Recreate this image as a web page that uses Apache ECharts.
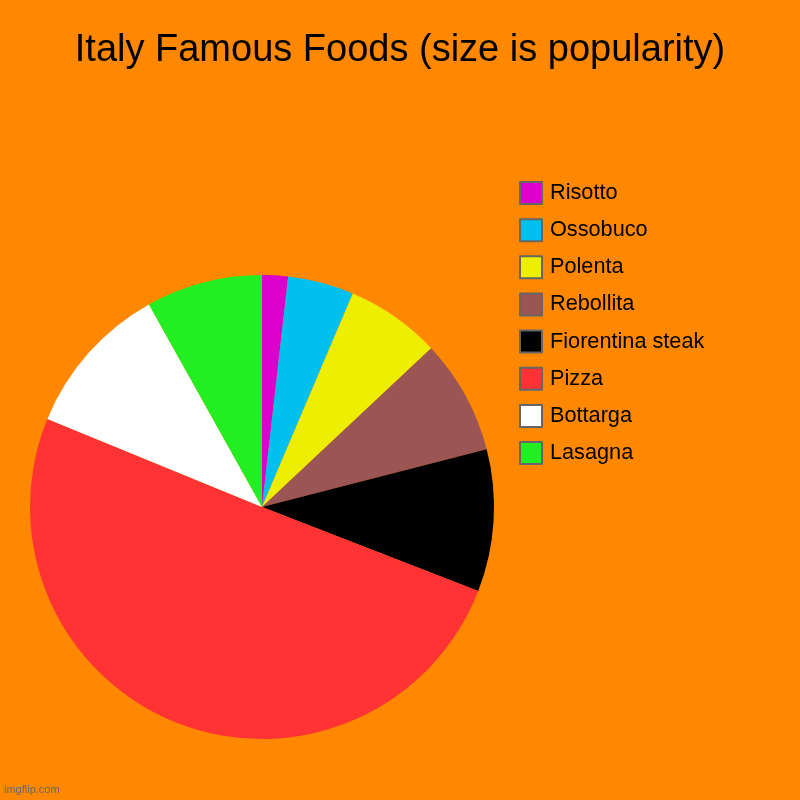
<!DOCTYPE html>
<html>
<head>
<meta charset="utf-8">
<script src="https://cdn.jsdelivr.net/npm/echarts@6/dist/echarts.min.js"></script>
<style>html,body{margin:0;padding:0;background:#FF8800;}#c{width:800px;height:800px;}</style>
</head>
<body>
<div id="c"></div>
<script>
const categories = ["Risotto", "Ossobuco", "Polenta", "Rebollita", "Fiorentina steak", "Pizza", "Bottarga", "Lasagna"];
const values = [1.8, 4.6, 6.6, 8.0, 9.9, 50.3, 10.7, 8.1];
const colors = ["#DD00CC", "#00C0F0", "#EEEE00", "#9C5555", "#000000", "#FF3333", "#FFFFFF", "#22EE22"];

const chart = echarts.init(document.getElementById('c'), null, {renderer: 'canvas'});
chart.setOption({
  backgroundColor: '#FF8800',
  animation: false,
  title: {
    text: 'Italy Famous Foods (size is popularity)',
    left: 'center',
    top: 27,
    textStyle: {fontFamily: 'Liberation Sans', fontSize: 38, fontWeight: 'normal', color: '#000'}
  },
  legend: {
    orient: 'vertical',
    left: 519,
    top: 181,
    padding: 0,
    itemWidth: 22,
    itemHeight: 22,
    itemGap: 13.15,
    icon: 'rect',
    data: categories,
    itemStyle: {borderColor: '#666666', borderWidth: 2},
    textStyle: {fontFamily: 'Liberation Sans', fontSize: 21.7, lineHeight: 24, color: '#000', padding: [0, 0, 0, 3]}
  },
  graphic: [{
    type: 'text', left: 4, top: 784,
    style: {text: 'imgflip.com', fill: '#666666', font: '11px "Liberation Sans"'}
  }],
  series: [{
    type: 'pie',
    center: [262, 507],
    radius: 232,
    startAngle: 90,
    clockwise: true,
    label: {show: false},
    labelLine: {show: false},
    emphasis: {disabled: true},
    data: categories.map((n, i) => ({name: n, value: values[i], itemStyle: {color: colors[i]}}))
  }]
});
</script>
</body>
</html>
